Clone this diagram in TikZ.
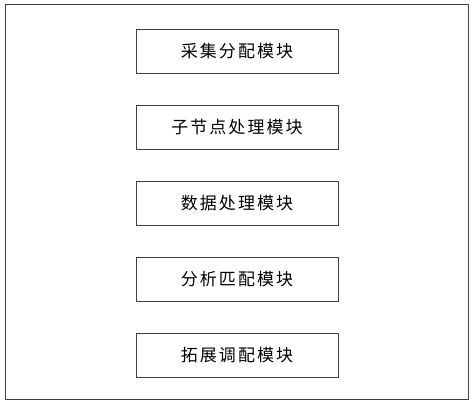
\documentclass[tikz,border=0pt]{standalone}
\usepackage{fontspec}
\usepackage{tikz}
\usetikzlibrary{positioning}
\newfontfamily\cjk[LetterSpace=12]{Noto Sans CJK SC}
\definecolor{framegray}{RGB}{64,64,64}

\begin{document}
\begin{tikzpicture}[
    x=1pt, y=1pt,
    node distance=31pt,
    modbox/.style={rectangle, draw=framegray, line width=1pt, fill=white, minimum width=202pt, minimum height=44pt, inner sep=0pt, align=center, font=\cjk\fontsize{17}{20}\selectfont},
    frame/.style={draw=framegray, line width=1pt}
]
    \useasboundingbox (0,0) rectangle (474,405);
    \draw[frame] (5,6) rectangle (468,400);

    \node[modbox] (collect) at (237,353.5) {采集分配模块};
    \node[modbox, below=of collect] (child) {子节点处理模块};
    \node[modbox, below=of child] (data) {数据处理模块};
    \node[modbox, below=of data] (match) {分析匹配模块};
    \node[modbox, below=of match] (expand) {拓展调配模块};
\end{tikzpicture}
\end{document}
